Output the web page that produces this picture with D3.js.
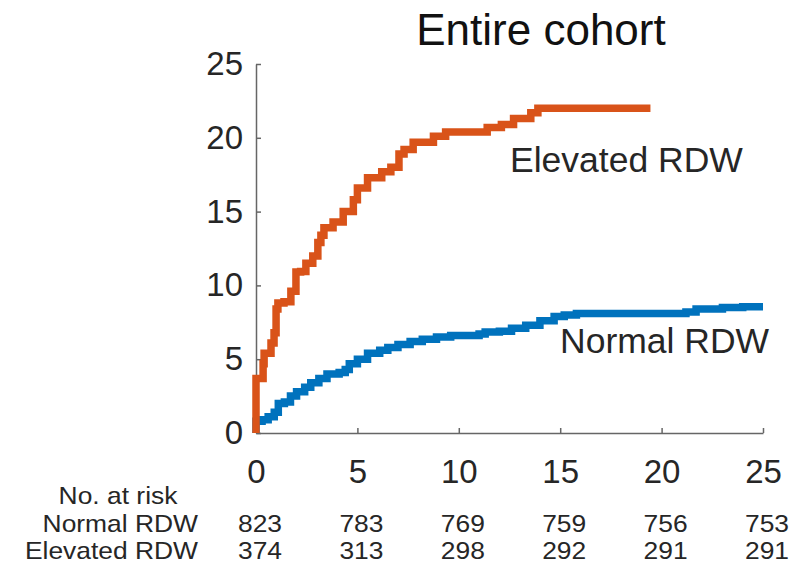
<!DOCTYPE html>
<html>
<head>
<meta charset="utf-8">
<script src="https://cdn.jsdelivr.net/npm/d3@7"></script>
<style>
  body { margin: 0; background: #fff; }
  svg { font-family: "Liberation Sans", Arial, sans-serif; }
  .axis path, .axis line { stroke: #666; stroke-width: 1.5; }
  .axis text { fill: #262626; font-size: 33px; }
</style>
</head>
<body>
<svg id="chart" width="800" height="575"></svg>
<script>
// cumulative incidence (%), step points [year, value]
const elevatedRDW = [
  [0, 0], [0, 3.7], [0.35, 4.7], [0.4, 5.4], [0.74, 6.1], [0.89, 6.8], [0.99, 8.4],
  [1.08, 8.8], [1.38, 8.9], [1.72, 9.6], [1.97, 10.9], [2.2, 10.95], [2.46, 11.5],
  [2.8, 12.0], [3.05, 12.9], [3.2, 13.4], [3.35, 13.9], [3.8, 14.3], [4.3, 15.0],
  [4.8, 15.8], [5.0, 16.6], [5.5, 17.3], [6.2, 17.7], [6.65, 18.0], [7.05, 18.9],
  [7.3, 19.2], [7.75, 19.7], [8.75, 20.1], [9.35, 20.4], [11.4, 20.7], [12.1, 20.9],
  [12.7, 21.3], [13.55, 21.7], [13.9, 22.0], [19.45, 22.0]
];
const normalRDW = [
  [0, 0], [0, 0.8], [0.3, 0.9], [0.6, 1.1], [0.9, 1.4], [1.1, 2.0], [1.4, 2.1],
  [1.7, 2.5], [2.0, 2.8], [2.4, 3.1], [2.7, 3.4], [3.1, 3.7], [3.5, 4.0], [4.1, 4.1],
  [4.4, 4.3], [4.6, 4.7], [5.0, 5.0], [5.5, 5.4], [6.1, 5.6], [6.5, 5.8], [7.0, 6.0],
  [7.6, 6.2], [8.2, 6.35], [8.9, 6.5], [9.6, 6.6], [11.0, 6.7], [11.3, 6.85],
  [12.0, 6.9], [12.6, 7.1], [13.3, 7.3], [14.0, 7.6], [14.7, 7.9], [15.2, 8.0],
  [15.8, 8.1], [21.2, 8.2], [21.7, 8.4], [23.0, 8.5], [24.0, 8.55], [25, 8.55]
];

const xTicks = [0, 5, 10, 15, 20, 25];
const yTicks = [0, 5, 10, 15, 20, 25];
const riskNormal = [823, 783, 769, 759, 756, 753];
const riskElevated = [374, 313, 298, 292, 291, 291];

const svg = d3.select("#chart");

const x = d3.scaleLinear().domain([0, 25]).range([256, 763]);
const y = d3.scaleLinear().domain([0, 25]).range([433, 64]);

// axes, MATLAB style: ticks pointing in, no box
svg.append("g")
  .attr("class", "axis")
  .attr("transform", "translate(0,433)")
  .call(d3.axisBottom(x).tickValues(xTicks).tickSizeInner(-5).tickSizeOuter(0).tickPadding(27));

svg.append("g")
  .attr("class", "axis")
  .attr("transform", "translate(256,0)")
  .call(d3.axisLeft(y).tickValues(yTicks).tickSizeInner(-5).tickSizeOuter(0).tickPadding(13));

svg.selectAll(".axis").attr("font-family", null).attr("font-size", null);

const line = d3.line()
  .x(d => x(d[0]))
  .y(d => y(d[1]))
  .curve(d3.curveStepAfter);

svg.append("path")
  .attr("fill", "none")
  .attr("stroke", "#0072BD")
  .attr("stroke-width", 7.5)
  .attr("d", line(normalRDW));

svg.append("path")
  .attr("fill", "none")
  .attr("stroke", "#D95319")
  .attr("stroke-width", 7.5)
  .attr("d", line(elevatedRDW));

// title and curve labels
svg.append("text")
  .attr("x", 541)
  .attr("y", 45)
  .attr("text-anchor", "middle")
  .attr("fill", "#111")
  .style("font-size", "44px")
  .text("Entire cohort");

svg.append("text")
  .attr("x", 510)
  .attr("y", 172)
  .attr("fill", "#262626")
  .style("font-size", "35.5px")
  .text("Elevated RDW");

svg.append("text")
  .attr("x", 560)
  .attr("y", 353)
  .attr("fill", "#262626")
  .style("font-size", "35.5px")
  .text("Normal RDW");

// number at risk table (slightly stretched text, like the original)
const tbl = svg.append("g").style("font-size", "24px").attr("fill", "#262626");

function cell(tx, ty, anchor, label) {
  tbl.append("text")
    .attr("transform", `translate(${tx},${ty}) scale(1.1,1)`)
    .attr("text-anchor", anchor)
    .text(label);
}

cell(118, 504, "middle", "No. at risk");
cell(198, 531.5, "end", "Normal RDW");
cell(198, 558.5, "end", "Elevated RDW");

riskNormal.forEach((d, i) => cell(x(xTicks[i]) + 4, 531.5, "middle", d));
riskElevated.forEach((d, i) => cell(x(xTicks[i]) + 4, 558.5, "middle", d));
</script>
</body>
</html>
